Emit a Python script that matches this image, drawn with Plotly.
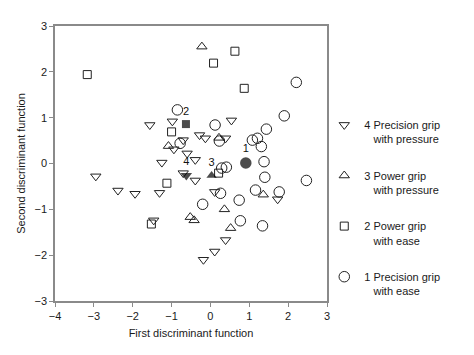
import plotly.graph_objects as go

# Group 4: Precision grip with pressure (down triangles)
g4_x = [-1.56, -0.98, -0.94, -0.70, -0.60, -1.25, -0.39, -0.28, -0.13, 0.54, 0.39,
        -2.95, -2.38, -1.94, -1.31, -1.46, -0.70, -0.39, 0.11, 1.73, 0.39, 0.11, -0.18]
g4_y = [0.84, 0.92, 0.31, 0.51, 0.22, 0.02, 0.08, 0.62, 0.55, 0.94, 0.55,
        -0.28, -0.59, -0.66, -0.64, -1.24, -0.21, -0.37, -0.62, -0.78, -1.67, -1.92, -2.10]
# Group 3: Power grip with pressure (up triangles)
g3_x = [-0.22, -1.08, 0.22, 1.36, 0.36, -0.52, -0.42, 0.52]
g3_y = [2.55, 0.38, 0.56, -0.68, -1.00, -1.17, -1.24, -1.41]
# Group 2: Power grip with ease (squares)
g2_x = [-3.17, 0.08, 0.63, 0.87, -1.00, -1.12, -1.52, 0.21]
g2_y = [1.94, 2.19, 2.45, 1.64, 0.69, -0.43, -1.32, -0.21]
# Group 1: Precision grip with ease (circles)
g1_x = [-0.85, 2.21, 1.90, 0.12, 1.44, 0.23, 1.08, 1.21, 1.31, 1.38, 0.29,
        0.41, 1.40, 2.47, 1.16, 1.77, 0.26, -0.20, 0.74, 0.77, 1.34, -0.78]
g1_y = [1.17, 1.77, 1.04, 0.84, 0.75, 0.49, 0.51, 0.55, 0.37, 0.04, -0.10,
        -0.08, -0.30, -0.37, -0.58, -0.62, -0.65, -0.89, -0.80, -1.25, -1.36, 0.44]

# Group centroids
cent_labels = ["4", "3", "2", "1"]
cent_x = [-0.62, 0.03, -0.63, 0.91]
cent_y = [-0.26, -0.26, 0.86, 0.01]

legend_names = [
    "4 Precision grip<br>&nbsp;&nbsp;&nbsp;with pressure",
    "3 Power grip<br>&nbsp;&nbsp;&nbsp;with pressure",
    "2 Power grip<br>&nbsp;&nbsp;&nbsp;with ease",
    "1 Precision grip<br>&nbsp;&nbsp;&nbsp;with ease",
]

edge = "#222222"
fig = go.Figure()
groups = [
    (g4_x, g4_y, "triangle-down-open", 9),
    (g3_x, g3_y, "triangle-up-open", 9),
    (g2_x, g2_y, "square-open", 8),
    (g1_x, g1_y, "circle-open", 10.5),
]
for i, (gx, gy, sym, sz) in enumerate(groups):
    fig.add_trace(go.Scatter(
        x=gx, y=gy, mode="markers", name=legend_names[i],
        legendgroup=f"g{i}",
        marker=dict(symbol=sym, size=sz, color=edge, line=dict(width=1, color=edge)),
    ))

cent_symbols = ["triangle-down", "triangle-up", "square", "circle"]
cent_sizes = [10, 9, 8, 11.5]
fig.add_trace(go.Scatter(
    x=cent_x, y=cent_y, mode="markers+text", text=cent_labels,
    textposition="top center", showlegend=False,
    textfont=dict(size=11, color="#111111"),
    marker=dict(symbol=cent_symbols, size=cent_sizes, color="#000000",
                line=dict(width=0)),
))

axis_col = "#8a8a8a"
fig.update_layout(
    width=474, height=355,
    margin=dict(l=41, r=155, t=15, b=62),
    paper_bgcolor="white", plot_bgcolor="white",
    font=dict(family="Liberation Sans, Arial, sans-serif", size=11, color="#1a1a1a"),
    legend=dict(x=0.99, xanchor="left", y=0.69, yanchor="top",
                valign="top", tracegroupgap=19,
                font=dict(size=11, color="#1a1a1a"),
                bgcolor="rgba(0,0,0,0)"),
    xaxis=dict(range=[-4, 3], tickmode="array", tickvals=[-4, -3, -2, -1, 0, 1, 2, 3],
               showgrid=False, zeroline=False, showline=True, linecolor=axis_col,
               linewidth=1.5, mirror=True, ticks="outside", ticklen=4,
               tickcolor=axis_col, tickfont=dict(size=11),
               title=dict(text="First discriminant function", font=dict(size=11),
                          standoff=8)),
    yaxis=dict(range=[-3, 3], tickmode="array", tickvals=[-3, -2, -1, 0, 1, 2, 3],
               showgrid=False, zeroline=False, showline=True, linecolor=axis_col,
               linewidth=1.5, mirror=True, ticks="outside", ticklen=4,
               tickcolor=axis_col, tickfont=dict(size=11),
               title=dict(text="Second discriminant function", font=dict(size=11),
                          standoff=7)),
)

fig.write_html("out.html")
